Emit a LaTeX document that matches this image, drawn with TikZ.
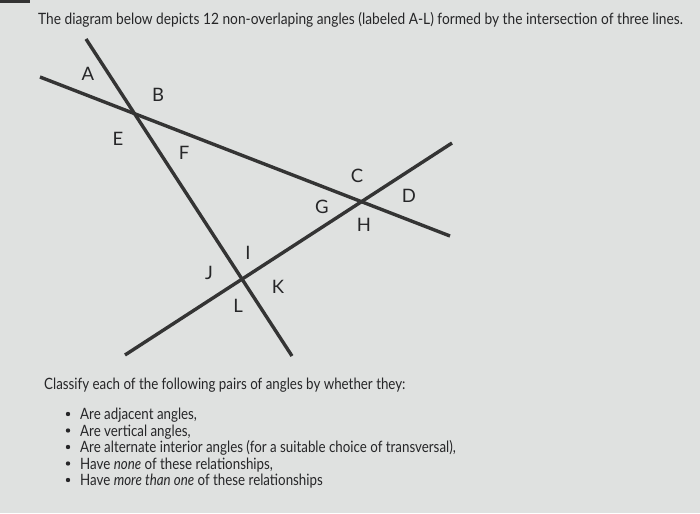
\documentclass[tikz,border=0pt]{standalone}
\usepackage{fontspec}
\setmainfont{Lato}
\definecolor{bg}{RGB}{223,225,224}
\definecolor{ink}{RGB}{52,52,52}
\definecolor{txt}{RGB}{38,38,40}
\newcommand{\sqz}[1]{\scalebox{0.855}[1]{#1}}
\begin{document}
\begin{tikzpicture}[x=1pt,y=-1pt,
  geoline/.style={draw=ink,line width=3.4pt},
  anglab/.style={text=txt,font=\fontsize{18.5}{18.5}\selectfont,inner sep=0pt,anchor=center},
  para/.style={text=txt,font=\fontsize{15.6}{17}\selectfont,inner sep=0pt,anchor=base west},
  bul/.style={fill=txt,circle,inner sep=0pt,minimum size=4.4pt}]
\useasboundingbox (0,0) rectangle (700,513);
\fill[bg] (0,0) rectangle (700,513);
\fill[black!80] (0,0) rectangle (30,3);
% title
\node[para] (title) at (38,25) {\scalebox{0.88}[1]{The diagram below depicts 12 non-overlaping angles (labeled A-L) formed by the intersection of three lines.}};
% lines
\coordinate (l1a) at (40,77);
\coordinate (l1b) at (450,236);
\coordinate (l2a) at (86,39);
\coordinate (l2b) at (292,356);
\coordinate (l3a) at (125,355);
\coordinate (l3b) at (452,143);
\draw[geoline] (l1a) -- (l1b);
\draw[geoline] (l2a) -- (l2b);
\draw[geoline] (l3a) -- (l3b);
% labels
\node[anglab] (A) at (88,74) {A};
\node[anglab] (B) at (158,95) {B};
\node[anglab] (E) at (118,139) {E};
\node[anglab] (F) at (184,153) {F};
\node[anglab] (C) at (357,176) {C};
\node[anglab] (D) at (409,196) {D};
\node[anglab] (G) at (322,207) {G};
\node[anglab] (H) at (364,225) {H};
\node[anglab] (I) at (248,253) {I};
\node[anglab] (J) at (209,273) {J};
\node[anglab] (K) at (278,287) {K};
\node[anglab] (L) at (238,306) {L};
% text
\node[para] (classify) at (44,389) {\sqz{Classify each of the following pairs of angles by whether they:}};
\node[bul] (b1) at (68,414) {};
\node[bul] (b2) at (68,430.5) {};
\node[bul] (b3) at (68,447) {};
\node[bul] (b4) at (68,463.5) {};
\node[bul] (b5) at (68,480) {};
\node[para] (t1) at (80,419.5) {\sqz{Are adjacent angles,}};
\node[para] (t2) at (80,436) {\sqz{Are vertical angles,}};
\node[para] (t3) at (80,452.5) {\sqz{Are alternate interior angles (for a suitable choice of transversal),}};
\node[para] (t4) at (80,469) {\sqz{Have \textit{none} of these relationships,}};
\node[para] (t5) at (80,485.5) {\sqz{Have \textit{more than one} of these relationships}};
\end{tikzpicture}
\end{document}
